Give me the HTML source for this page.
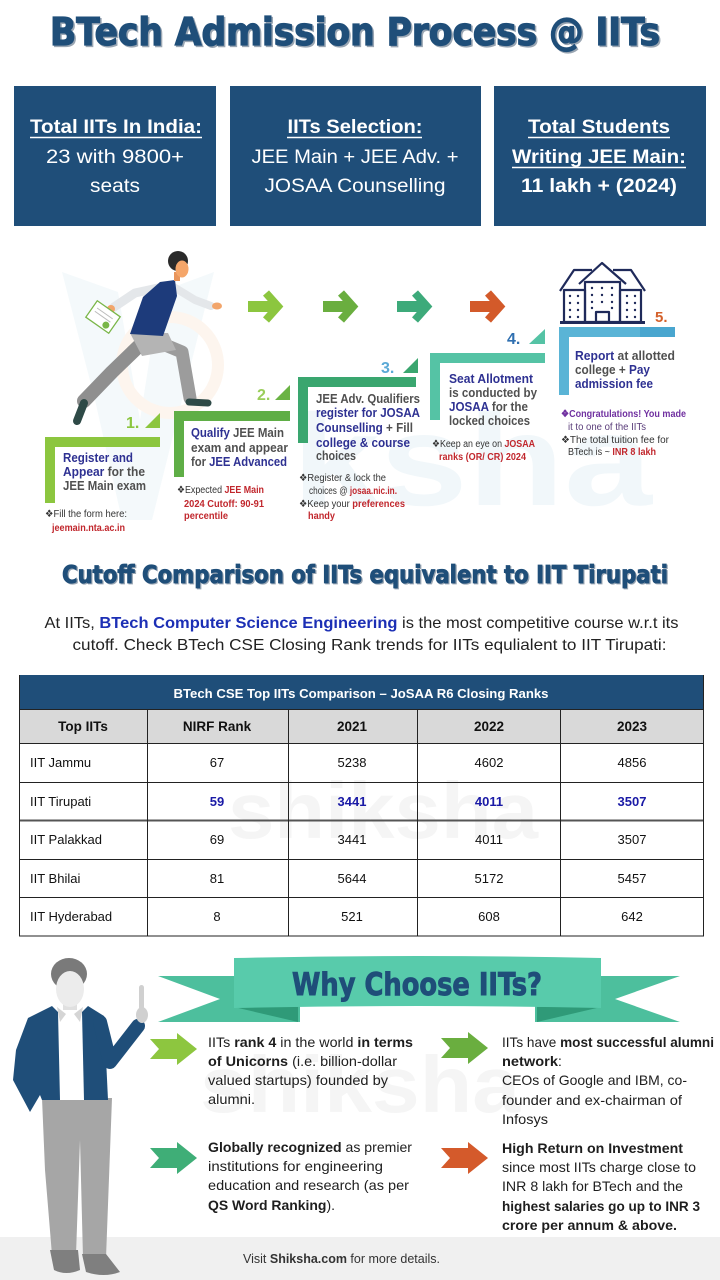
<!DOCTYPE html>
<html><head><meta charset="utf-8"><style>
html,body{margin:0;padding:0;background:#fff;}
svg{display:block;}
text{font-family:"Liberation Sans",sans-serif;}
.h{font-family:"DejaVu Sans Condensed","Liberation Sans Narrow","DejaVu Sans",sans-serif;font-weight:bold;}
.st{font-size:12.5px;font-weight:bold;fill:#505050;}
.bl{fill:#2e3192;}
.nt{font-size:10px;fill:#333;}
.rd{fill:#c1272d;font-weight:bold;}
.tb{font-size:13px;fill:#111;}
.wy{font-size:14px;fill:#1e1e1e;}
</style></head><body>
<svg width="720" height="1280" viewBox="0 0 720 1280" xmlns="http://www.w3.org/2000/svg">
<rect width="720" height="1280" fill="#fff"/>

<!-- Title -->
<text class="h" x="51.5" y="46.5" font-size="38" fill="#9aa6b3" stroke="#9aa6b3" stroke-width="1.2" textLength="610" lengthAdjust="spacingAndGlyphs">BTech Admission Process @ IITs</text>
<text class="h" x="50" y="45" font-size="38" fill="#1f4e79" stroke="#1f4e79" stroke-width="1.2" textLength="610" lengthAdjust="spacingAndGlyphs">BTech Admission Process @ IITs</text>

<!-- Boxes -->
<rect x="14" y="86" width="202" height="140" fill="#1f4e79"/>
<rect x="230" y="86" width="251" height="140" fill="#1f4e79"/>
<rect x="494" y="86" width="212" height="140" fill="#1f4e79"/>
<g fill="#fff" font-size="19" text-anchor="middle">
<text x="116" y="133" font-weight="bold" textLength="172" lengthAdjust="spacingAndGlyphs">Total IITs In India:</text>
<text x="115" y="163" textLength="138" lengthAdjust="spacingAndGlyphs">23 with 9800+</text>
<text x="115" y="192" textLength="50" lengthAdjust="spacingAndGlyphs">seats</text>
<text x="355" y="133" font-weight="bold" textLength="135" lengthAdjust="spacingAndGlyphs">IITs Selection:</text>
<text x="355" y="163" textLength="207" lengthAdjust="spacingAndGlyphs">JEE Main + JEE Adv. +</text>
<text x="355" y="192" textLength="181" lengthAdjust="spacingAndGlyphs">JOSAA Counselling</text>
<text x="599" y="133" font-weight="bold" textLength="142" lengthAdjust="spacingAndGlyphs">Total Students</text>
<text x="599" y="163" font-weight="bold" textLength="174" lengthAdjust="spacingAndGlyphs">Writing JEE Main:</text>
<text x="599" y="192" font-weight="bold" textLength="156" lengthAdjust="spacingAndGlyphs">11 lakh + (2024)</text>
</g>
<g stroke="#fff" stroke-width="1.6">
<line x1="30" y1="137.5" x2="202" y2="137.5"/>
<line x1="287" y1="137.5" x2="422" y2="137.5"/>
<line x1="528" y1="137.5" x2="670" y2="137.5"/>
<line x1="512" y1="167.5" x2="686" y2="167.5"/>
</g>

<!-- Process watermark -->
<polygon points="62,272 118,292 140,420 160,292 214,272 182,400 152,520 122,520 95,400" fill="#f4f9fb"/>
<circle cx="170" cy="365" r="48" fill="none" stroke="#fdf5ee" stroke-width="12"/>
<text x="292" y="505" font-size="130" font-weight="bold" fill="#f1f7fa" textLength="360" lengthAdjust="spacingAndGlyphs">ksha</text>

<!-- Running person -->
<g stroke-linecap="round" stroke-linejoin="round" fill="none">
<polyline points="140,345 112,372 84,401" stroke="#8f8f8f" stroke-width="14"/>
<line x1="84" y1="403" x2="77" y2="421" stroke="#2e4a47" stroke-width="8"/>
<polyline points="158,342 182,352 190,398" stroke="#9c9c9c" stroke-width="13"/>
<line x1="189" y1="402" x2="208" y2="403" stroke="#2e4a47" stroke-width="7"/>
<polyline points="158,288 135,293 114,307" stroke="#e4e7ea" stroke-width="9"/>
<polyline points="172,286 195,300 211,306" stroke="#e4e7ea" stroke-width="8"/>
</g>
<polygon points="130,333 168,333 176,350 142,356" fill="#b4b4b4"/>
<polygon points="160,282 175,280 177,296 163,336 130,334 143,297" fill="#1d3b7b"/>
<circle cx="111" cy="309" r="4" fill="#f2a56b"/>
<ellipse cx="217" cy="306" rx="5" ry="3.5" fill="#f2a56b"/>
<g transform="rotate(35 103 317)">
<rect x="89" y="307" width="28" height="20" fill="#fff" stroke="#7ab648" stroke-width="1.3"/>
<line x1="93" y1="313" x2="112" y2="313" stroke="#bbb" stroke-width="1"/>
<line x1="93" y1="317" x2="112" y2="317" stroke="#bbb" stroke-width="1"/>
<circle cx="110" cy="322" r="3.5" fill="#7ab648"/>
</g>
<rect x="174" y="272" width="6" height="9" fill="#e8955c"/>
<circle cx="178" cy="261" r="10" fill="#2a2a2a"/>
<ellipse cx="182" cy="269" rx="6.5" ry="8.5" fill="#f5a66a"/>

<!-- Process arrows -->
<g fill="none" stroke-linejoin="miter">
<g stroke="#8cc63f"><line x1="248" y1="306.5" x2="276" y2="306.5" stroke-width="11"/><polyline points="266,293 278,306.5 266,320" stroke-width="8"/></g>
<g stroke="#6aae3f"><line x1="323" y1="306.5" x2="351" y2="306.5" stroke-width="11"/><polyline points="341,293 353,306.5 341,320" stroke-width="8"/></g>
<g stroke="#3daa7a"><line x1="397" y1="306.5" x2="425" y2="306.5" stroke-width="11"/><polyline points="415,293 427,306.5 415,320" stroke-width="8"/></g>
<g stroke="#d35a2a"><line x1="470" y1="306.5" x2="498" y2="306.5" stroke-width="11"/><polyline points="488,293 500,306.5 488,320" stroke-width="8"/></g>
</g>

<!-- Step 1 -->
<rect x="45" y="437" width="115" height="10" fill="#8cc63f"/>
<rect x="45" y="437" width="10" height="66" fill="#8cc63f"/>
<text x="126" y="428" font-size="16" font-weight="bold" fill="#8cc63f">1.</text>
<polygon points="145,428 160,413 160,428" fill="#8cc63f"/>
<text class="st" x="63" y="462" textLength="70" lengthAdjust="spacingAndGlyphs"><tspan class="bl">Register and</tspan></text>
<text class="st" x="63" y="476" textLength="82" lengthAdjust="spacingAndGlyphs"><tspan class="bl">Appear</tspan> for the</text>
<text class="st" x="63" y="490" textLength="83" lengthAdjust="spacingAndGlyphs">JEE Main exam</text>
<text class="nt" x="45" y="517" textLength="82" lengthAdjust="spacingAndGlyphs">❖Fill the form here:</text>
<text class="nt rd" x="52" y="531" textLength="73" lengthAdjust="spacingAndGlyphs">jeemain.nta.ac.in</text>

<!-- Step 2 -->
<rect x="174" y="411" width="116" height="10" fill="#5fae46"/>
<rect x="174" y="411" width="10" height="66" fill="#5fae46"/>
<text x="257" y="400" font-size="16" font-weight="bold" fill="#9acd5a">2.</text>
<polygon points="275,400 290,385 290,400" fill="#6ab344"/>
<text class="st" x="191" y="437" textLength="93" lengthAdjust="spacingAndGlyphs"><tspan class="bl">Qualify</tspan> JEE Main</text>
<text class="st" x="191" y="452" textLength="97" lengthAdjust="spacingAndGlyphs">exam and appear</text>
<text class="st" x="191" y="466" textLength="96" lengthAdjust="spacingAndGlyphs">for <tspan class="bl">JEE Advanced</tspan></text>
<text class="nt" x="177" y="493" textLength="87" lengthAdjust="spacingAndGlyphs">❖Expected <tspan class="rd">JEE Main</tspan></text>
<text class="nt rd" x="184" y="507" textLength="80" lengthAdjust="spacingAndGlyphs">2024 Cutoff: 90-91</text>
<text class="nt rd" x="184" y="519" textLength="44" lengthAdjust="spacingAndGlyphs">percentile</text>

<!-- Step 3 -->
<rect x="298" y="377" width="118" height="10" fill="#3aa66f"/>
<rect x="298" y="377" width="10" height="66" fill="#3aa66f"/>
<text x="381" y="373" font-size="16" font-weight="bold" fill="#5aa9d6">3.</text>
<polygon points="403,373 418,358 418,373" fill="#3aa66f"/>
<text class="st" x="316" y="403" textLength="104" lengthAdjust="spacingAndGlyphs">JEE Adv. Qualifiers</text>
<text class="st bl" x="316" y="417" textLength="104" lengthAdjust="spacingAndGlyphs">register for JOSAA</text>
<text class="st" x="316" y="432" textLength="97" lengthAdjust="spacingAndGlyphs"><tspan class="bl">Counselling</tspan> + Fill</text>
<text class="st bl" x="316" y="447" textLength="94" lengthAdjust="spacingAndGlyphs">college &amp; course</text>
<text class="st" x="316" y="460" textLength="40" lengthAdjust="spacingAndGlyphs">choices</text>
<text class="nt" x="299" y="481" textLength="87" lengthAdjust="spacingAndGlyphs">❖Register &amp; lock the</text>
<text class="nt" x="309" y="494" textLength="88" lengthAdjust="spacingAndGlyphs">choices @ <tspan class="rd">josaa.nic.in.</tspan></text>
<text class="nt" x="299" y="507" textLength="106" lengthAdjust="spacingAndGlyphs">❖Keep your <tspan class="rd">preferences</tspan></text>
<text class="nt rd" x="308" y="519" textLength="27" lengthAdjust="spacingAndGlyphs">handy</text>

<!-- Step 4 -->
<rect x="430" y="353" width="115" height="10" fill="#55c3a5"/>
<rect x="430" y="353" width="10" height="67" fill="#55c3a5"/>
<text x="507" y="344" font-size="16" font-weight="bold" fill="#2f6fb0">4.</text>
<polygon points="529,344 545,329 545,344" fill="#55c3a5"/>
<text class="st bl" x="449" y="383" textLength="84" lengthAdjust="spacingAndGlyphs">Seat Allotment</text>
<text class="st" x="449" y="397" textLength="88" lengthAdjust="spacingAndGlyphs">is conducted by</text>
<text class="st" x="449" y="411" textLength="79" lengthAdjust="spacingAndGlyphs"><tspan class="bl">JOSAA</tspan> for the</text>
<text class="st" x="449" y="425" textLength="81" lengthAdjust="spacingAndGlyphs">locked choices</text>
<text class="nt" x="432" y="447" textLength="103" lengthAdjust="spacingAndGlyphs">❖Keep an eye on <tspan class="rd">JOSAA</tspan></text>
<text class="nt rd" x="439" y="460" textLength="87" lengthAdjust="spacingAndGlyphs">ranks (OR/ CR) 2024</text>

<!-- Step 5 -->
<rect x="559" y="327" width="116" height="10" fill="#5ab4d6"/>
<rect x="640" y="327" width="35" height="10" fill="#49a6cf"/>
<rect x="559" y="327" width="10" height="68" fill="#5ab4d6"/>
<text x="655" y="322" font-size="15" font-weight="bold" fill="#d4602a">5.</text>
<g fill="none" stroke="#1f2a5a" stroke-width="2.2" stroke-linejoin="round">
<rect x="564" y="290" width="21" height="32"/>
<rect x="620" y="290" width="21" height="32"/>
<polyline points="560,291 574,270 592,270"/>
<polyline points="645,291 631,270 613,270"/>
<rect x="585" y="282" width="35" height="40"/>
<polyline points="579,284 602,263 626,284"/>
<rect x="596" y="312" width="13" height="10"/>
<line x1="560" y1="322.5" x2="645" y2="322.5" stroke-width="3"/>
</g>
<g fill="#1f2a5a">
<circle cx="570" cy="296" r="1.2"/><circle cx="578" cy="296" r="1.2"/><circle cx="570" cy="303" r="1.2"/><circle cx="578" cy="303" r="1.2"/><circle cx="570" cy="310" r="1.2"/><circle cx="578" cy="310" r="1.2"/><circle cx="570" cy="317" r="1.2"/><circle cx="578" cy="317" r="1.2"/>
<circle cx="627" cy="296" r="1.2"/><circle cx="635" cy="296" r="1.2"/><circle cx="627" cy="303" r="1.2"/><circle cx="635" cy="303" r="1.2"/><circle cx="627" cy="310" r="1.2"/><circle cx="635" cy="310" r="1.2"/><circle cx="627" cy="317" r="1.2"/><circle cx="635" cy="317" r="1.2"/>
<circle cx="592" cy="288" r="1.2"/><circle cx="602" cy="288" r="1.2"/><circle cx="612" cy="288" r="1.2"/>
<circle cx="592" cy="295" r="1.2"/><circle cx="602" cy="295" r="1.2"/><circle cx="612" cy="295" r="1.2"/>
<circle cx="592" cy="302" r="1.2"/><circle cx="602" cy="302" r="1.2"/><circle cx="612" cy="302" r="1.2"/>
<circle cx="592" cy="308" r="1.2"/><circle cx="612" cy="308" r="1.2"/>
</g>
<text class="st" x="575" y="360" textLength="100" lengthAdjust="spacingAndGlyphs"><tspan class="bl">Report</tspan> at allotted</text>
<text class="st" x="575" y="374" textLength="75" lengthAdjust="spacingAndGlyphs">college + <tspan class="bl">Pay</tspan></text>
<text class="st bl" x="575" y="388" textLength="78" lengthAdjust="spacingAndGlyphs">admission fee</text>
<text class="nt" x="561" y="417" font-weight="bold" textLength="125" lengthAdjust="spacingAndGlyphs" style="fill:#7030a0">❖Congratulations! You made</text>
<text class="nt" x="568" y="430" textLength="78" lengthAdjust="spacingAndGlyphs" style="fill:#5a3d7a">it to one of the IITs</text>
<text class="nt" x="561" y="443" textLength="108" lengthAdjust="spacingAndGlyphs">❖The total tuition fee for</text>
<text class="nt" x="568" y="455" textLength="88" lengthAdjust="spacingAndGlyphs">BTech is ~ <tspan class="rd">INR 8 lakh</tspan></text>

<!-- Cutoff title -->
<text class="h" x="63.2" y="584.2" font-size="25" fill="#9aa6b3" stroke="#9aa6b3" stroke-width="0.8" textLength="606" lengthAdjust="spacingAndGlyphs">Cutoff Comparison of IITs equivalent to IIT Tirupati</text>
<text class="h" x="62" y="583" font-size="25" fill="#1f4e79" stroke="#1f4e79" stroke-width="0.8" textLength="606" lengthAdjust="spacingAndGlyphs">Cutoff Comparison of IITs equivalent to IIT Tirupati</text>

<text x="44.5" y="628" font-size="16" fill="#222" textLength="634" lengthAdjust="spacingAndGlyphs">At IITs, <tspan fill="#1c2fb5" font-weight="bold">BTech Computer Science Engineering</tspan> is the most competitive course w.r.t its</text>
<text x="72.5" y="650" font-size="16" fill="#222" textLength="594" lengthAdjust="spacingAndGlyphs">cutoff. Check BTech CSE Closing Rank trends for IITs equlialent to IIT Tirupati:</text>

<!-- Table -->
<rect x="19" y="675" width="685" height="34" fill="#1f4e79"/>
<text x="361" y="698" font-size="13" font-weight="bold" fill="#fff" text-anchor="middle" textLength="375" lengthAdjust="spacingAndGlyphs">BTech CSE Top IITs Comparison – JoSAA R6 Closing Ranks</text>
<rect x="19" y="709" width="685" height="34" fill="#d9d9d9"/>
<text x="228" y="838" font-size="80" font-weight="bold" fill="#f5f5f5" textLength="310" lengthAdjust="spacingAndGlyphs">shiksha</text>
<g stroke="#222" stroke-width="1">
<line x1="19" y1="709.5" x2="704" y2="709.5"/>
<line x1="19" y1="743.5" x2="704" y2="743.5"/>
<line x1="19" y1="782.5" x2="704" y2="782.5"/>
<line x1="19" y1="820.5" x2="704" y2="820.5" stroke-width="2" stroke="#555"/>
<line x1="19" y1="859.5" x2="704" y2="859.5"/>
<line x1="19" y1="897.5" x2="704" y2="897.5"/>
<line x1="19" y1="936" x2="704" y2="936"/>
<line x1="19.5" y1="675" x2="19.5" y2="936"/>
<line x1="703.5" y1="675" x2="703.5" y2="936"/>
<line x1="147.5" y1="709" x2="147.5" y2="936"/>
<line x1="288.5" y1="709" x2="288.5" y2="936"/>
<line x1="417.5" y1="709" x2="417.5" y2="936"/>
<line x1="560.5" y1="709" x2="560.5" y2="936"/>
</g>
<g font-size="13.5" font-weight="bold" fill="#111" text-anchor="middle">
<text x="83" y="731">Top IITs</text>
<text x="217" y="731">NIRF Rank</text>
<text x="352" y="731">2021</text>
<text x="489" y="731">2022</text>
<text x="632" y="731">2023</text>
</g>
<g>
<text class="tb" x="30" y="767">IIT Jammu</text>
<text class="tb" x="30" y="806">IIT Tirupati</text>
<text class="tb" x="30" y="844">IIT Palakkad</text>
<text class="tb" x="30" y="883">IIT Bhilai</text>
<text class="tb" x="30" y="921">IIT Hyderabad</text>
</g>
<g font-size="13" fill="#111" text-anchor="middle">
<text x="217" y="767">67</text><text x="352" y="767">5238</text><text x="489" y="767">4602</text><text x="632" y="767">4856</text>
<text x="217" y="806" font-weight="bold" fill="#1a1aa6">59</text><text x="352" y="806" font-weight="bold" fill="#1a1aa6">3441</text><text x="489" y="806" font-weight="bold" fill="#1a1aa6">4011</text><text x="632" y="806" font-weight="bold" fill="#1a1aa6">3507</text>
<text x="217" y="844">69</text><text x="352" y="844">3441</text><text x="489" y="844">4011</text><text x="632" y="844">3507</text>
<text x="217" y="883">81</text><text x="352" y="883">5644</text><text x="489" y="883">5172</text><text x="632" y="883">5457</text>
<text x="217" y="921">8</text><text x="352" y="921">521</text><text x="489" y="921">608</text><text x="632" y="921">642</text>
</g>

<!-- Why section watermark -->
<text x="200" y="1112" font-size="80" font-weight="bold" fill="#f5f5f5" textLength="320" lengthAdjust="spacingAndGlyphs">shiksha</text>

<!-- Ribbon -->
<polygon points="158,976 300,976 300,1022 158,1022 220,999" fill="#4dbf9d"/>
<polygon points="535,976 680,976 615,999 680,1022 535,1022" fill="#4dbf9d"/>
<polygon points="234,1007 298,1007 298,1022" fill="#2f9a78"/>
<polygon points="601,1007 537,1007 537,1022" fill="#2f9a78"/>
<path d="M234,958 Q418,954 601,958 L601,1008 Q418,1004 234,1008 Z" fill="#58cbab"/>
<text class="h" x="292" y="995" font-size="31" fill="#1f4e79" stroke="#1f4e79" stroke-width="0.9" textLength="250" lengthAdjust="spacingAndGlyphs">Why Choose IITs?</text>

<!-- Why arrows -->
<polygon points="150,1039 177,1039 177,1033 197,1049 177,1065 177,1059 150,1059 159,1049" fill="#8dc63f"/>
<polygon points="150,1148 177,1148 177,1142 197,1158 177,1174 177,1168 150,1168 159,1158" fill="#3fae77"/>
<polygon points="441,1038 468,1038 468,1032 488,1048 468,1064 468,1058 441,1058 450,1048" fill="#6aae3f"/>
<polygon points="441,1148 468,1148 468,1142 488,1158 468,1174 468,1168 441,1168 450,1158" fill="#d45a2b"/>

<!-- Why texts -->
<text class="wy" x="208" y="1047" textLength="205" lengthAdjust="spacingAndGlyphs">IITs <tspan font-weight="bold">rank 4</tspan> in the world <tspan font-weight="bold">in terms</tspan></text>
<text class="wy" x="208" y="1066" textLength="189" lengthAdjust="spacingAndGlyphs"><tspan font-weight="bold">of Unicorns</tspan> (i.e. billion-dollar</text>
<text class="wy" x="208" y="1085" textLength="180" lengthAdjust="spacingAndGlyphs">valued startups) founded by</text>
<text class="wy" x="208" y="1104" textLength="47" lengthAdjust="spacingAndGlyphs">alumni.</text>
<text class="wy" x="208" y="1152" textLength="204" lengthAdjust="spacingAndGlyphs"><tspan font-weight="bold">Globally recognized</tspan> as premier</text>
<text class="wy" x="208" y="1171" textLength="175" lengthAdjust="spacingAndGlyphs">institutions for engineering</text>
<text class="wy" x="208" y="1190" textLength="201" lengthAdjust="spacingAndGlyphs">education and research (as per</text>
<text class="wy" x="208" y="1210" textLength="127" lengthAdjust="spacingAndGlyphs"><tspan font-weight="bold">QS Word Ranking</tspan>).</text>

<text class="wy" x="502" y="1047" textLength="212" lengthAdjust="spacingAndGlyphs">IITs have <tspan font-weight="bold">most successful alumni</tspan></text>
<text class="wy" x="502" y="1066" textLength="60" lengthAdjust="spacingAndGlyphs"><tspan font-weight="bold">network</tspan>:</text>
<text class="wy" x="502" y="1085" textLength="185" lengthAdjust="spacingAndGlyphs">CEOs of Google and IBM, co-</text>
<text class="wy" x="502" y="1105" textLength="180" lengthAdjust="spacingAndGlyphs">founder and ex-chairman of</text>
<text class="wy" x="502" y="1124" textLength="46" lengthAdjust="spacingAndGlyphs">Infosys</text>
<text class="wy" x="502" y="1153" font-weight="bold" textLength="181" lengthAdjust="spacingAndGlyphs">High Return on Investment</text>
<text class="wy" x="502" y="1172" textLength="194" lengthAdjust="spacingAndGlyphs">since most IITs charge close to</text>
<text class="wy" x="502" y="1191" textLength="181" lengthAdjust="spacingAndGlyphs">INR 8 lakh for BTech and the</text>
<text class="wy" x="502" y="1211" font-weight="bold" textLength="198" lengthAdjust="spacingAndGlyphs">highest salaries go up to INR 3</text>
<text class="wy" x="502" y="1230" font-weight="bold" textLength="175" lengthAdjust="spacingAndGlyphs">crore per annum &amp; above.</text>

<!-- Footer -->
<rect x="0" y="1237" width="720" height="43" fill="#f0f0f0"/>
<text x="243" y="1263" font-size="12.5" fill="#333" textLength="197" lengthAdjust="spacingAndGlyphs">Visit <tspan font-weight="bold">Shiksha.com</tspan> for more details.</text>

<!-- Standing person -->
<polygon points="42,1098 112,1098 106,1258 83,1258 80,1140 76,1255 52,1255 45,1170" fill="#a6a6a6"/>
<path d="M50,1250 L78,1250 L80,1270 Q66,1276 54,1270 Z" fill="#7f7f7f"/>
<path d="M82,1254 L106,1254 L120,1272 Q104,1278 86,1272 Z" fill="#7f7f7f"/>
<polygon points="57,1008 83,1008 84,1100 58,1100" fill="#fff"/>
<polygon points="52,1006 28,1018 16,1050 13,1080 30,1112 40,1095 42,1100 60,1100 58,1012" fill="#1f4e79"/>
<polygon points="82,1012 88,1006 104,1016 108,1100 84,1100" fill="#1f4e79"/>
<polyline points="100,1022 110,1062 138,1026" fill="none" stroke="#1f4e79" stroke-width="14" stroke-linecap="round" stroke-linejoin="round"/>
<polygon points="57,1007 66,1014 60,1022" fill="#d5d5d5"/>
<polygon points="83,1007 74,1014 80,1022" fill="#d5d5d5"/>
<ellipse cx="142" cy="1015" rx="6" ry="8" fill="#d0d0d0"/>
<rect x="139" y="985" width="5" height="25" rx="2.5" fill="#d0d0d0"/>
<rect x="63" y="998" width="14" height="12" fill="#e0e0e0"/>
<ellipse cx="69" cy="974" rx="18" ry="16" fill="#7a7a7a"/>
<ellipse cx="70" cy="989" rx="14" ry="18" fill="#ececec"/>
</svg>
</body></html>
